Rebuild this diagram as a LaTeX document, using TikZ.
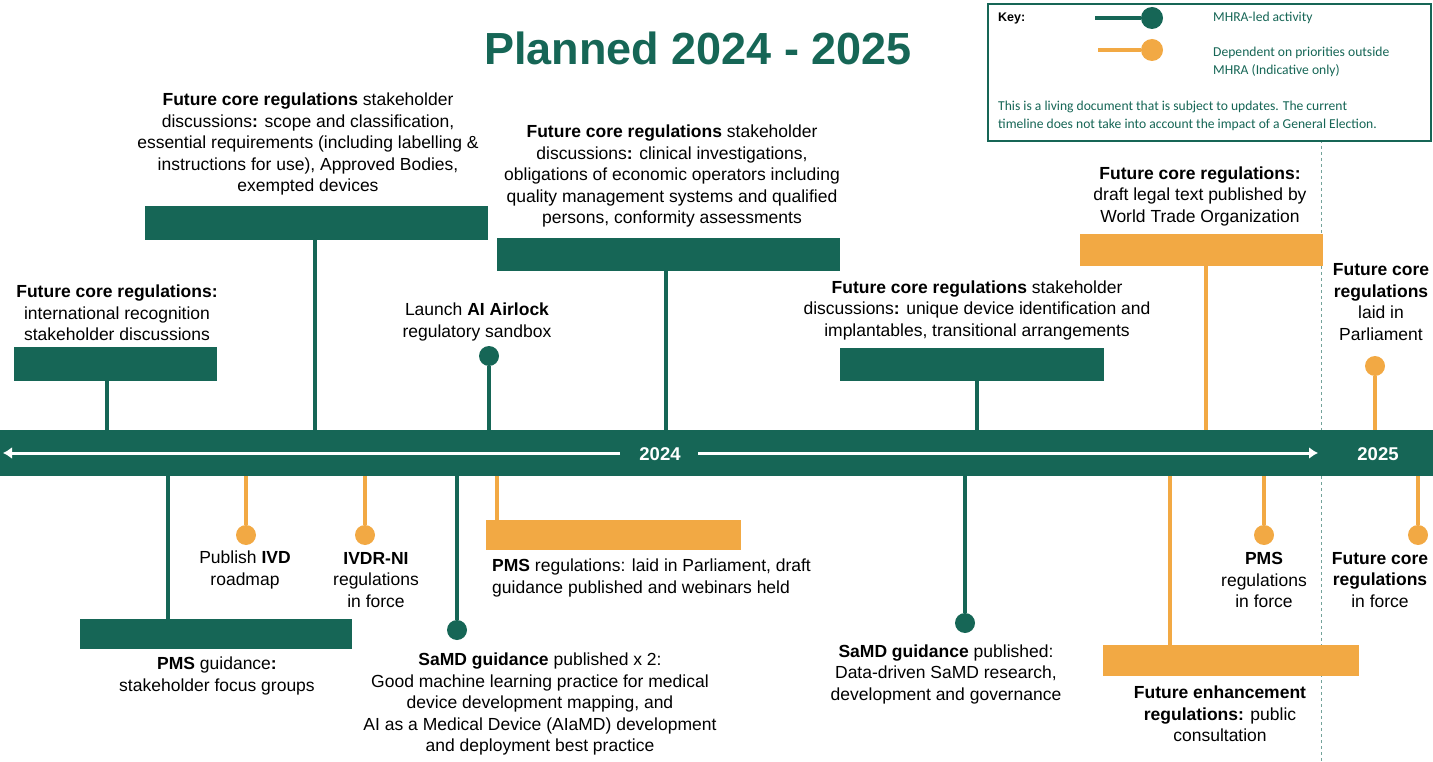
\documentclass[tikz,border=0pt]{standalone}
\usepackage{fontspec}
\setmainfont{Liberation Sans}
\newfontfamily\keyfont{Carlito}
\usetikzlibrary{positioning,arrows.meta}
\definecolor{mgreen}{HTML}{166656}
\definecolor{morange}{HTML}{F2A944}

\begin{document}
\begin{tikzpicture}[x=1pt,y=-1pt,
    txt/.style={align=center,font=\fontsize{17.5}{21.5}\selectfont,inner sep=0pt},
    gbox/.style={fill=mgreen,inner sep=0pt,anchor=north west},
    obox/.style={fill=morange,inner sep=0pt,anchor=north west},
    gstem/.style={draw=mgreen,line width=3.5pt},
    ostem/.style={draw=morange,line width=3.5pt},
    gdot/.style={circle,fill=mgreen,minimum size=20pt,inner sep=0pt},
    odot/.style={circle,fill=morange,minimum size=20pt,inner sep=0pt},
    keytxt/.style={text=mgreen,font=\keyfont\fontsize{13.6}{18}\selectfont,align=left,anchor=west,inner sep=0pt}]

  \useasboundingbox (0,0) rectangle (1433,762);
  \draw[mgreen!60,dashed,thin] (1321,140) -- (1321,762);

  % title and key
  \node[text=mgreen,font=\fontsize{45}{48}\selectfont\bfseries] (title) at (698,48) {Planned 2024 - 2025};
  \node[draw=mgreen,line width=2pt,minimum width=443pt,minimum height=137pt,anchor=north west,fill=white] (key) at (987,3) {};
  \node[font=\fontsize{12.5}{14}\selectfont\bfseries,anchor=west,inner sep=0pt] (keyhead) at (998,18) {Key:};
  \node[gdot,minimum size=22pt] (keyg) at (1152,18) {};
  \coordinate (keyga) at (1095,18);
  \draw[gstem] (keyga) -- (keyg);
  \node[odot,minimum size=22pt] (keyo) at (1152,50) {};
  \coordinate (keyoa) at (1098,50);
  \draw[ostem] (keyoa) -- (keyo);
  \node[keytxt] (keygt) at (1213,18) {MHRA-led activity};
  \node[keytxt] (keyot) at (1213,62) {Dependent on priorities outside\\MHRA (Indicative only)};
  \node[keytxt] (keynote) at (998,116) {This is a living document that is subject to updates. The current\\timeline does not take into account the impact of a General Election.};

  % timeline band
  \node[fill=mgreen,minimum width=1433pt,minimum height=46pt,inner sep=0pt,anchor=north west] (band) at (0,430) {};
  \node[text=white,font=\fontsize{18.5}{20}\selectfont\bfseries] (y24) at (660,454) {2024};
  \node[text=white,font=\fontsize{18.5}{20}\selectfont\bfseries] (y25) at (1378,454) {2025};
  \coordinate (al) at (3,453);
  \coordinate (ar) at (1318,453);
  \draw[white,line width=3pt,-{Latex[length=9pt,width=12pt]}] (620,453) -- (al);
  \draw[white,line width=3pt,-{Latex[length=9pt,width=12pt]}] (698,453) -- (ar);

  % above the line
  \node[gbox,minimum width=203pt,minimum height=34pt] (b1) at (14,347) {};
  \draw[gstem] (107,381) -- (107,430);
  \node[txt] (t1) at (117,313) {\textbf{Future core regulations:}\\international recognition\\stakeholder discussions};

  \node[gbox,minimum width=343pt,minimum height=34pt] (b2) at (145,206) {};
  \draw[gstem] (315,240) -- (315,430);
  \node[txt] (t2) at (308,144) {\textbf{Future core regulations} stakeholder\\discussions\textbf{:} scope and classification,\\essential requirements (including labelling \&\\instructions for use), Approved Bodies,\\exempted devices};

  \node[gbox,minimum width=343pt,minimum height=33pt] (b3) at (497,238) {};
  \draw[gstem] (666,271) -- (666,430);
  \node[txt] (t3) at (672,176) {\textbf{Future core regulations} stakeholder\\discussions\textbf{:} clinical investigations,\\obligations of economic operators including\\quality management systems and qualified\\persons, conformity assessments};

  \node[gdot] (d4) at (489,356) {};
  \draw[gstem] (d4) -- (489,430);
  \node[txt] (t4) at (477,322) {Launch \textbf{AI Airlock}\\regulatory sandbox};

  \node[gbox,minimum width=264pt,minimum height=33pt] (b5) at (840,348) {};
  \draw[gstem] (977,381) -- (977,430);
  \node[txt] (t5) at (977,310) {\textbf{Future core regulations} stakeholder\\discussions\textbf{:} unique device identification and\\implantables, transitional arrangements};

  \node[obox,minimum width=243pt,minimum height=32pt] (b6) at (1080,234) {};
  \draw[ostem] (1206,266) -- (1206,430);
  \node[txt] (t6) at (1200,196) {\textbf{Future core regulations:}\\draft legal text published by\\World Trade Organization};

  \node[odot] (d7) at (1375,366) {};
  \draw[ostem] (d7) -- (1375,430);
  \node[txt] (t7) at (1381,302) {\textbf{Future core}\\\textbf{regulations}\\laid in\\Parliament};

  % below the line
  \node[gbox,minimum width=272pt,minimum height=30pt] (c1) at (80,619) {};
  \draw[gstem] (168,476) -- (168,619);
  \node[txt] (s1) at (217,676) {\textbf{PMS} guidance\textbf{:}\\stakeholder focus groups};

  \node[odot] (e2) at (246,535) {};
  \draw[ostem] (246,476) -- (e2);
  \node[txt] (s2) at (245,570) {Publish \textbf{IVD}\\roadmap};

  \node[odot] (e3) at (365,535) {};
  \draw[ostem] (365,476) -- (e3);
  \node[txt] (s3) at (376,580) {\textbf{IVDR-NI}\\regulations\\in force};

  \node[gdot] (e4) at (457,630) {};
  \draw[gstem] (457,476) -- (e4);
  \node[txt] (s4) at (540,704) {\textbf{SaMD guidance} published x 2:\\Good machine learning practice for medical\\device development mapping, and\\AI as a Medical Device (AIaMD) development\\and deployment best practice};

  \node[obox,minimum width=255pt,minimum height=30pt] (c5) at (486,520) {};
  \draw[ostem] (497,476) -- (497,520);
  \node[txt,align=left,anchor=west] (s5) at (492,578) {\textbf{PMS} regulations: laid in Parliament, draft\\guidance published and webinars held};

  \node[gdot] (e6) at (965,623) {};
  \draw[gstem] (965,476) -- (e6);
  \node[txt] (s6) at (946,674) {\textbf{SaMD guidance} published:\\Data-driven SaMD research,\\development and governance};

  \node[obox,minimum width=256pt,minimum height=31pt] (c7) at (1103,645) {};
  \draw[ostem] (1170,476) -- (1170,645);
  \node[txt] (s7) at (1220,714) {\textbf{Future enhancement}\\\textbf{regulations:} public\\consultation};

  \node[odot] (e8) at (1264,535) {};
  \draw[ostem] (1264,476) -- (e8);
  \node[txt] (s8) at (1264,580) {\textbf{PMS}\\regulations\\in force};

  \node[odot] (e9) at (1418,535) {};
  \draw[ostem] (1418,476) -- (e9);
  \node[txt] (s9) at (1380,580) {\textbf{Future core}\\\textbf{regulations}\\in force};

\end{tikzpicture}
\end{document}
